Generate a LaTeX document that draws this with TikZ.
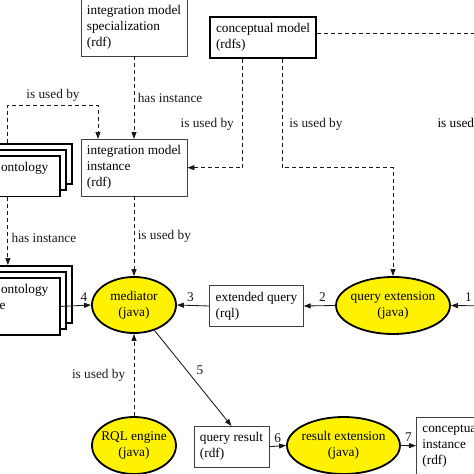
\documentclass[tikz,border=0pt]{standalone}
\usepackage{fontspec}
\setmainfont{Liberation Serif}
\usetikzlibrary{arrows.meta,calc,positioning,shapes.geometric}

\begin{document}
\begin{tikzpicture}[x=1pt,y=-1pt,
  font=\fontsize{13.3}{16}\selectfont,
  doc/.style={draw=black!75, line width=0.8pt, align=left, inner xsep=6pt, inner ysep=6.25pt},
  model/.style={doc, draw=black, line width=2pt},
  stackbox/.style={draw=black, line width=1.8pt, fill=white, align=left, inner xsep=6pt, inner ysep=6.25pt, anchor=north west, minimum width=104pt},
  proc/.style={ellipse, draw=black, line width=1.8pt, fill=yellow, inner sep=0pt},
  proctext/.style={align=center},
  link/.style={black!90, line width=0.85pt},
  flow/.style={link, -{Triangle[length=7pt,width=5pt]}},
  dashedlink/.style={link, dash pattern=on 4pt off 3pt},
  used/.style={dashedlink, -{Triangle[length=7pt,width=5pt]}}]
  \useasboundingbox (0,0) rectangle (474,474);

  % Models
  \node[doc, anchor=north] (spec) at (134,-1) {integration model\\specialization\\(rdf)};
  \node[model, anchor=north west] (concept) at (209,16) {conceptual model\\(rdfs)};
  \node[doc, anchor=north] (inst) at (134,139) {integration model\\instance\\(rdf)};

  % Ontology stacks
  \foreach \s/\n in {12/c,6/b} {
    \node[stackbox, minimum height=40pt] (srcont\n) at (-45+\s,155-\s) {};
    \node[stackbox, minimum height=57pt] (inont\n) at (-45+\s,277-\s) {};
  }
  \node[stackbox, text width=92pt, minimum height=40pt] (srcont) at (-45,155) {source ontology\\(rdfs)};
  \node[stackbox, text width=92pt, minimum height=57pt] (inont) at (-45,277) {source ontology\\instance\\(rdf)};

  % Java components
  \node[proc, minimum width=84pt, minimum height=56pt, label={[proctext]center:mediator\\(java)}] (med) at (134,305) {};
  \node[proc, minimum width=114pt, minimum height=57pt, label={[proctext]center:query extension\\(java)}] (qe) at (393,305.5) {};
  \node[proc, minimum width=84pt, minimum height=57pt, label={[proctext]center:RQL engine\\(java)}] (rql) at (134,445.5) {};
  \node[proc, minimum width=113pt, minimum height=57pt, label={[proctext]center:result extension\\(java)}] (rext) at (343.5,445.5) {};

  % Queries and results
  \node[doc] (extq) at (256.5,306) {extended query\\(rql)};
  \node[doc, anchor=north] (qres) at (231.5,426) {query result\\(rdf)};
  \node[doc, anchor=north west] (cmi) at (416,417) {conceptual model\\instance\\(rdf)};

  \coordinate (qin) at (495,306);
  \coordinate (cmout) at (520,33);

  % Numbered flow
  \draw[flow] (qin) -- (qe.east) node[pos=0.6, above] {1};
  \draw[flow] (qe.west) -- (extq.east) node[pos=0.4, above] {2};
  \draw[flow] (extq.west) -- (med.east) node[pos=0.58, above] {3};
  \draw[flow] (inont.east) -- (med.west) node[pos=0.76, above] {4};
  \draw[flow] (med) -- (qres.north) node[pos=0.5, above right] {5};
  \draw[flow] (qres.east) -- (rext.west) node[midway, above] {6};
  \draw[flow] (rext.east) -- (cmi.west) node[midway, above] {7};

  % has instance
  \draw[used] (spec.south) -- (inst.north) node[midway, right] {has instance};
  \draw[used] (srcont.south) -- (srcont.south |- inontc.north) node[pos=0.6, right] {has instance};

  % is used by
  \draw[used] (srcont.north |- srcontc.north) |- ([xshift=-36pt,yshift=34pt]inst.north)
    node[pos=0.75, above] {is used by} -- ([xshift=-36pt]inst.north);
  \draw[used] ([xshift=-20.5pt]concept.south) |- (inst.east) node[pos=0.3, left=5pt] {is used by};
  \draw[used] ([xshift=19.5pt]concept.south) |- (qe.north |- inst.east)
    node[pos=0.3, right=3pt] {is used by} -- (qe.north);
  \draw[used] (inst.south) -- (med.north) node[midway, right] {is used by};
  \draw[used] (rql.north) -- (med.south) node[midway, left=5pt] {is used by};
  \draw[dashedlink] (concept.east |- cmout) -- (cmout);
  \node[anchor=west] (usedlbl) at (434,124) {is used by};
\end{tikzpicture}
\end{document}
